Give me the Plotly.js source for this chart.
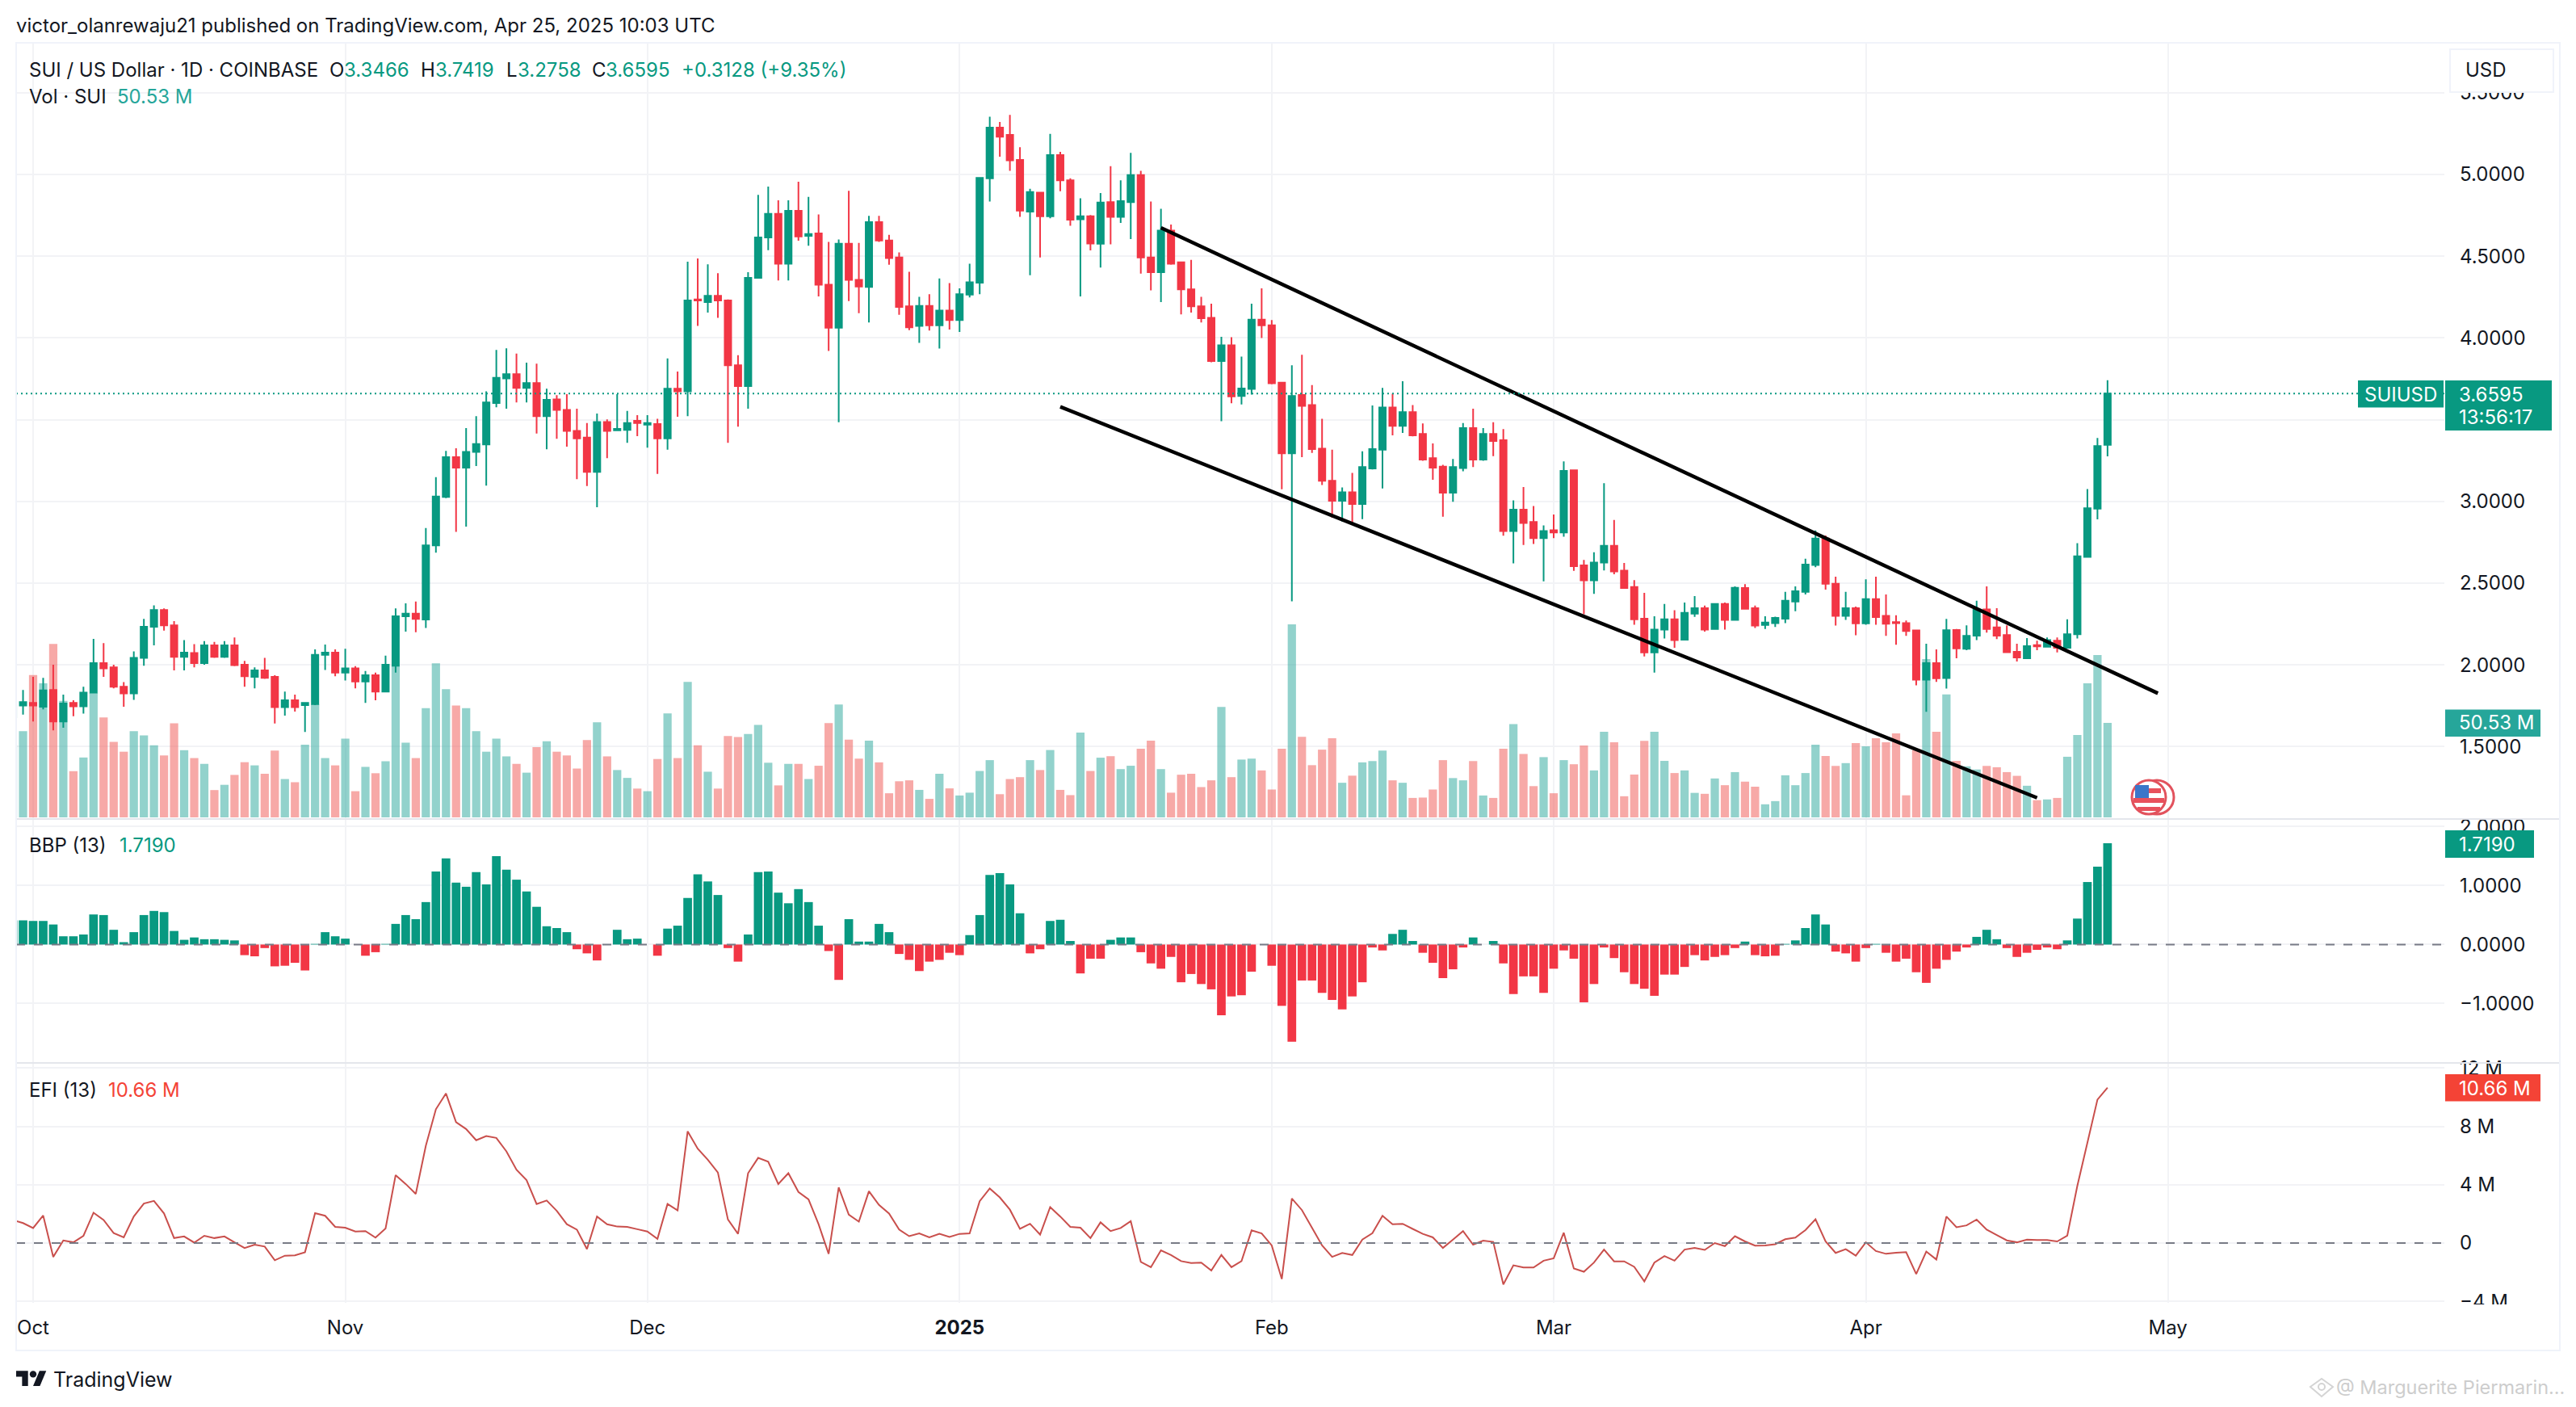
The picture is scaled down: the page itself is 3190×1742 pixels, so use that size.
<!DOCTYPE html>
<html><head><meta charset="utf-8">
<script src="https://cdn.plot.ly/plotly-3.0.1.min.js"></script>
<style>html,body{margin:0;padding:0;background:#fff;overflow:hidden}#c{width:3190px;height:1742px}</style>
</head><body><div id="c"></div>
<script>
const FIRST_DAY = '2024-09-29';
const monthTicks = ['2024-10-01','2024-11-01','2024-12-01','2025-01-01','2025-02-01','2025-03-01','2025-04-01','2025-05-01'];
const monthLabels = ['Oct','Nov','Dec','<b>2025</b>','Feb','Mar','Apr','May'];
const open = [
1.680,1.751,1.767,1.744,1.847,1.654,1.767,1.747,1.831,2.011,
1.985,1.866,1.825,2.043,2.233,2.336,2.242,2.049,2.072,2.011,
2.120,2.049,2.120,2.001,1.927,1.966,1.927,1.741,1.783,1.754,
1.760,2.062,2.075,1.953,1.979,1.899,1.937,1.837,1.995,2.297,
2.313,2.278,2.731,3.027,3.271,3.206,3.303,3.348,3.602,3.753,
3.779,3.695,3.724,3.522,3.624,3.560,3.431,3.390,3.181,3.486,
3.435,3.438,3.493,3.470,3.473,3.386,3.689,3.673,4.235,4.219,
4.258,4.229,3.833,3.705,4.367,4.614,4.759,4.454,4.778,4.625,
4.639,4.326,4.062,4.576,4.355,4.312,4.709,4.596,4.492,4.193,
4.074,4.196,4.077,4.167,4.109,4.265,4.338,4.976,5.286,5.242,
5.089,4.773,4.889,4.744,5.118,4.964,4.726,4.744,4.576,4.831,
4.741,4.831,4.996,4.492,4.402,4.657,4.463,4.297,4.193,4.123,
3.859,3.955,3.645,3.688,4.112,4.077,3.726,3.294,3.651,3.590,
3.323,3.126,3.004,3.056,2.984,3.201,3.317,3.575,3.462,3.546,
3.413,3.265,3.213,3.053,3.204,3.448,3.256,3.413,3.375,2.819,
2.949,2.874,2.775,2.824,2.810,3.190,2.609,2.517,2.626,2.728,
2.576,2.476,2.283,2.076,2.216,2.279,2.154,2.314,2.347,2.220,
2.373,2.275,2.470,2.347,2.244,2.255,2.283,2.388,2.447,2.611,
2.773,2.496,2.300,2.347,2.254,2.402,2.300,2.261,2.255,2.211,
1.910,2.011,1.920,2.214,2.099,2.179,2.339,2.230,2.183,2.080,
2.041,2.121,2.111,2.148,2.105,2.187,2.660,2.956,3.3466];
const close = [
1.754,1.773,1.751,1.844,1.654,1.764,1.747,1.831,2.011,1.979,
1.866,1.825,2.043,2.233,2.336,2.242,2.049,2.075,2.011,2.120,
2.049,2.120,1.998,1.931,1.966,1.921,1.741,1.783,1.741,1.767,
2.062,2.075,1.953,1.979,1.899,1.937,1.837,2.001,2.297,2.313,
2.281,2.731,3.030,3.271,3.206,3.303,3.351,3.605,3.756,3.779,
3.695,3.724,3.522,3.621,3.560,3.431,3.386,3.181,3.486,3.431,
3.444,3.480,3.480,3.480,3.386,3.689,3.673,4.229,4.229,4.258,
4.229,3.833,3.705,4.367,4.614,4.759,4.454,4.778,4.621,4.636,
4.326,4.062,4.576,4.355,4.315,4.709,4.596,4.489,4.190,4.065,
4.196,4.077,4.167,4.109,4.268,4.341,4.979,5.286,5.231,5.086,
4.779,4.892,4.744,5.118,4.964,4.723,4.744,4.578,4.828,4.741,
4.837,4.996,4.492,4.402,4.657,4.454,4.297,4.193,4.120,3.859,
3.955,3.642,3.691,4.112,4.077,3.723,3.294,3.645,3.584,3.320,
3.126,3.004,3.056,2.984,3.210,3.320,3.575,3.462,3.546,3.404,
3.256,3.207,3.053,3.210,3.448,3.256,3.413,3.369,2.819,2.949,
2.868,2.775,2.819,2.810,3.187,2.604,2.517,2.626,2.728,2.572,
2.470,2.279,2.076,2.216,2.279,2.152,2.318,2.347,2.216,2.373,
2.275,2.472,2.343,2.240,2.259,2.287,2.392,2.451,2.613,2.773,
2.496,2.300,2.347,2.254,2.402,2.293,2.252,2.255,2.207,1.910,
2.011,1.918,2.212,2.101,2.177,2.337,2.220,2.179,2.078,2.046,
2.115,2.113,2.152,2.105,2.187,2.664,2.958,3.339,3.6595];
const high = [
1.792,1.847,1.927,1.921,2.001,1.818,1.783,1.866,2.159,2.133,
2.001,1.895,2.082,2.281,2.364,2.345,2.268,2.152,2.127,2.146,
2.140,2.146,2.168,2.024,1.985,2.043,1.937,1.837,1.818,1.773,
2.095,2.124,2.095,2.098,1.992,1.963,1.953,2.056,2.345,2.377,
2.387,2.837,3.149,3.309,3.325,3.448,3.522,3.673,3.926,3.936,
3.904,3.849,3.843,3.689,3.650,3.656,3.567,3.480,3.538,3.502,
3.656,3.554,3.528,3.528,3.505,3.875,3.795,4.466,4.486,4.450,
4.396,4.235,3.894,4.402,4.875,4.926,4.842,4.842,4.955,4.863,
4.755,4.587,4.602,4.900,4.581,4.747,4.747,4.631,4.523,4.405,
4.251,4.268,4.364,4.335,4.303,4.454,4.984,5.353,5.321,5.364,
5.167,4.912,4.892,5.248,5.138,4.976,4.854,4.752,4.886,5.051,
4.964,5.132,5.022,4.834,4.790,4.694,4.468,4.477,4.251,4.210,
4.007,4.004,3.886,4.210,4.303,4.109,3.726,3.833,3.897,3.712,
3.506,3.317,3.085,3.175,3.306,3.587,3.694,3.659,3.735,3.590,
3.477,3.355,3.224,3.259,3.480,3.567,3.448,3.485,3.442,3.007,
3.088,2.972,2.853,2.920,3.245,3.195,2.642,2.689,3.111,2.886,
2.623,2.519,2.441,2.298,2.373,2.334,2.382,2.421,2.363,2.377,
2.382,2.480,2.494,2.363,2.298,2.295,2.447,2.480,2.650,2.822,
2.792,2.539,2.447,2.357,2.523,2.539,2.431,2.304,2.271,2.216,
2.129,2.095,2.281,2.220,2.242,2.392,2.480,2.347,2.242,2.129,
2.164,2.148,2.168,2.168,2.279,2.744,3.076,3.388,3.7419];
const low = [
1.648,1.696,1.654,1.728,1.599,1.616,1.686,1.702,1.825,1.927,
1.857,1.744,1.786,1.995,2.120,2.210,1.966,1.966,1.985,2.001,
2.043,2.043,1.992,1.866,1.857,1.915,1.641,1.690,1.715,1.590,
1.754,1.969,1.931,1.905,1.857,1.767,1.783,1.834,1.953,2.204,
2.200,2.226,2.686,3.020,2.814,2.846,3.216,3.097,3.576,3.567,
3.605,3.605,3.415,3.319,3.383,3.335,3.136,3.094,2.965,3.264,
3.431,3.358,3.399,3.329,3.168,3.316,3.518,3.522,4.074,4.155,
4.123,3.358,3.457,3.567,4.364,4.537,4.351,4.351,4.595,4.564,
4.254,3.920,3.485,4.225,4.152,4.094,4.587,4.448,4.141,4.048,
3.970,4.045,3.935,4.051,4.036,4.248,4.268,4.834,5.109,5.022,
4.741,4.384,4.492,4.732,4.897,4.686,4.254,4.535,4.431,4.573,
4.703,4.605,4.393,4.291,4.219,4.448,4.144,4.155,4.094,3.851,
3.491,3.601,3.593,3.654,3.999,3.717,3.074,2.389,3.271,3.297,
3.100,2.900,2.877,2.862,2.891,3.195,3.079,3.404,3.419,3.398,
3.248,3.132,2.906,2.998,3.184,3.210,3.248,3.277,2.790,2.621,
2.734,2.740,2.511,2.775,2.784,2.575,2.310,2.435,2.578,2.554,
2.466,2.246,2.052,1.953,2.162,2.105,2.152,2.294,2.203,2.216,
2.216,2.271,2.339,2.226,2.220,2.232,2.255,2.328,2.431,2.597,
2.460,2.240,2.275,2.181,2.246,2.246,2.177,2.123,2.177,1.875,
1.713,1.896,1.855,2.041,2.090,2.152,2.197,2.158,2.074,2.021,
2.037,2.090,2.107,2.076,2.103,2.162,2.656,2.890,3.2758];
const volumeM = [
38.5,46.1,76.1,71.6,92.7,62.3,24.7,32.0,66.5,53.4,
40.4,35.1,46.1,43.8,38.5,33.1,50.3,35.9,31.7,28.6,
14.6,17.4,22.7,29.5,27.8,23.3,35.7,20.5,18.8,38.8,
60.4,31.7,27.8,42.1,14.0,27.0,23.6,30.0,80.9,39.9,
31.7,58.4,82.3,68.5,59.8,58.4,46.1,35.1,42.1,32.6,
28.6,23.9,37.6,40.7,35.1,33.1,26.1,41.3,50.8,32.6,
25.3,21.1,15.4,14.0,31.2,55.6,31.7,72.4,38.5,24.4,
15.4,43.5,43.0,44.6,49.4,29.2,17.1,28.6,28.6,20.5,
27.6,50.4,60.3,41.5,31.4,41.0,29.4,12.9,19.3,19.8,
14.7,9.9,23.3,15.5,11.7,13.2,24.8,30.6,12.4,20.5,
21.5,30.6,25.3,36.0,14.7,11.9,45.3,24.8,31.9,32.7,
25.8,27.6,36.7,41.0,25.8,13.2,22.8,23.3,16.2,19.8,
59.0,21.5,30.9,31.4,25.1,14.9,36.7,103.1,43.1,27.9,
36.2,42.3,18.5,22.3,29.4,30.1,35.7,19.8,18.5,10.4,
10.6,14.9,30.6,21.0,19.8,30.1,11.7,10.4,36.7,49.9,
33.9,16.7,32.2,12.9,30.6,28.4,38.4,25.1,45.7,40.1,
11.3,22.9,40.9,45.7,30.2,23.7,25.1,13.1,12.6,20.8,
17.2,24.2,19.1,16.4,7.0,8.7,22.5,17.2,23.7,38.9,
32.8,27.5,29.0,39.7,38.0,42.3,40.1,44.9,11.8,36.0,
84.6,45.7,65.7,30.2,27.3,25.6,27.5,26.8,24.2,22.2,
16.9,9.2,9.6,10.4,32.4,44.0,71.7,86.7,50.53];
const bbp = [
0.41,0.41,0.40,0.40,0.34,0.14,0.14,0.17,0.51,0.50,
0.25,0.04,0.21,0.50,0.57,0.55,0.23,0.08,0.12,0.09,
0.09,0.08,0.07,-0.18,-0.20,-0.06,-0.37,-0.36,-0.31,-0.44,
0.01,0.21,0.14,0.10,0.00,-0.19,-0.13,0.01,0.35,0.50,
0.43,0.72,1.24,1.46,1.05,0.98,1.23,1.02,1.50,1.27,
1.10,0.90,0.64,0.31,0.28,0.21,-0.08,-0.15,-0.27,0.00,
0.25,0.09,0.10,0.00,-0.19,0.27,0.32,0.79,1.19,1.07,
0.84,-0.06,-0.29,0.17,1.23,1.24,0.88,0.70,0.94,0.72,
0.32,-0.11,-0.60,0.43,0.05,0.05,0.35,0.21,-0.16,-0.26,
-0.45,-0.29,-0.26,-0.14,-0.18,0.16,0.50,1.18,1.21,1.02,
0.53,-0.15,-0.08,0.40,0.42,0.06,-0.49,-0.24,-0.24,0.08,
0.12,0.12,-0.13,-0.32,-0.41,-0.21,-0.64,-0.50,-0.67,-0.76,
-1.20,-0.88,-0.86,-0.46,0.00,-0.36,-1.04,-1.65,-0.61,-0.61,
-0.82,-0.94,-1.10,-0.88,-0.64,-0.05,-0.10,0.18,0.25,0.06,
-0.14,-0.31,-0.57,-0.42,-0.05,0.12,0.00,0.06,-0.32,-0.84,
-0.54,-0.54,-0.82,-0.41,-0.10,-0.24,-0.98,-0.67,-0.05,-0.23,
-0.47,-0.67,-0.75,-0.87,-0.51,-0.51,-0.38,-0.18,-0.27,-0.21,
-0.18,-0.06,0.05,-0.18,-0.20,-0.19,0.01,0.07,0.28,0.51,
0.34,-0.12,-0.15,-0.29,-0.06,0.01,-0.14,-0.29,-0.24,-0.47,
-0.65,-0.41,-0.26,-0.12,-0.05,0.13,0.25,0.09,-0.06,-0.21,
-0.14,-0.09,-0.05,-0.08,0.07,0.44,1.06,1.32,1.719];
const efiM = [
1.58,1.37,1.03,1.89,-0.95,0.18,0.05,0.50,2.08,1.58,
0.68,0.39,1.82,2.71,2.89,2.03,0.34,0.45,0.03,0.50,
0.34,0.45,0.05,-0.34,-0.11,-0.24,-1.18,-0.87,-0.84,-0.63,
2.05,1.87,1.11,1.05,0.79,0.82,0.37,1.00,4.66,4.05,
3.37,6.68,9.18,10.26,8.29,7.82,7.05,7.34,7.21,6.29,
5.03,4.32,2.68,2.92,2.21,1.29,0.92,-0.42,1.82,1.29,
1.13,1.11,0.95,0.79,0.29,2.68,2.24,7.66,6.47,5.71,
4.84,1.61,0.63,4.79,5.84,5.58,4.05,4.79,3.50,3.00,
1.29,-0.74,3.82,1.95,1.47,3.55,2.61,2.03,0.92,0.47,
0.66,0.39,0.63,0.42,0.63,0.66,2.87,3.74,3.13,2.29,
0.97,1.32,0.58,2.47,1.82,1.11,1.05,0.34,1.42,0.82,
1.03,1.50,-1.29,-1.66,-0.50,-0.82,-1.24,-1.37,-1.34,-1.89,
-0.82,-1.66,-1.24,0.87,0.66,-0.16,-2.47,3.05,2.26,1.03,
-0.16,-0.95,-0.68,-0.82,0.24,0.68,1.87,1.29,1.32,0.97,
0.63,0.39,-0.34,0.24,0.82,-0.11,0.16,0.08,-2.84,-1.53,
-1.68,-1.68,-1.21,-1.05,0.71,-1.74,-1.97,-1.34,-0.45,-1.26,
-1.26,-1.63,-2.63,-1.34,-0.89,-1.21,-0.45,-0.34,-0.47,0.00,
-0.21,0.47,0.11,-0.18,-0.16,-0.08,0.26,0.37,0.89,1.63,
0.11,-0.68,-0.42,-0.87,0.05,-0.55,-0.74,-0.66,-0.63,-2.13,
-0.58,-1.13,1.82,1.08,1.21,1.61,0.92,0.55,0.18,0.05,
0.24,0.21,0.21,0.11,0.50,3.92,6.82,9.84,10.66];
const upperTrendDates = ['2025-01-21','2025-04-30'];
const upperTrendPrices = [4.674,1.826];
const lowerTrendDates = ['2025-01-11','2025-04-18'];
const lowerTrendPrices = [3.579,1.187];
const priceTicks = [1.5,2,2.5,3,3.5,4,4.5,5,5.5];
const priceTickText = ['1.5000','2.0000','2.5000','3.0000','3.5000','4.0000','4.5000','5.0000','5.5000'];
const bbpTicks = [-1,0,1,2];
const bbpTickText = ['\u22121.0000','0.0000','1.0000','2.0000'];
const efiTicks = [-4,0,4,8,12];
const efiTickText = ['\u22124 M','0','4 M','8 M','12 M'];
const lastClose = 3.6595;

const UP='#089981', DOWN='#F23645', VUP='rgba(38,166,154,0.5)', VDOWN='rgba(239,83,80,0.5)';
const GRID='#f2f3f6', SEP='#e4e6ec', INK='#131722', FONT='Inter, "Noto Sans", sans-serif';
const W=3190,H=1742;
const X0=20,X1=3027,XR=3170,T0=53,T1=1014,T2=1316,T3=1613,T4=1672;
const px=x=>x/W, py=y=>1-y/H;

const dates=[]; {
  const s=Date.parse(FIRST_DAY+'T00:00:00Z');
  for(let i=0;i<open.length;i++) dates.push(new Date(s+i*864e5).toISOString().slice(0,10));
}
const volColors=close.map((c,i)=>c>=open[i]?VUP:VDOWN);
const bbpColors=bbp.map(v=>v>=0?UP:DOWN);

const traces=[
 {type:'bar',x:dates,y:volumeM,xaxis:'x',yaxis:'y',width:0.82*864e5,marker:{color:volColors,line:{width:0}},hoverinfo:'skip'},
 {type:'candlestick',x:dates,open,high,low,close,xaxis:'x',yaxis:'y4',whiskerwidth:0,
  increasing:{line:{color:UP,width:2},fillcolor:UP},decreasing:{line:{color:DOWN,width:2},fillcolor:DOWN},hoverinfo:'skip'},
 {type:'scatter',mode:'lines',x:upperTrendDates,y:upperTrendPrices,xaxis:'x',yaxis:'y4',line:{color:'#000',width:4.5},hoverinfo:'skip'},
 {type:'scatter',mode:'lines',x:lowerTrendDates,y:lowerTrendPrices,xaxis:'x',yaxis:'y4',line:{color:'#000',width:4.5},hoverinfo:'skip'},
 {type:'bar',x:dates,y:bbp,xaxis:'x',yaxis:'y2',width:0.86*864e5,marker:{color:bbpColors,line:{width:0}},hoverinfo:'skip'},
 {type:'scatter',mode:'lines',x:dates,y:efiM,xaxis:'x',yaxis:'y3',line:{color:'#c94f4c',width:2},hoverinfo:'skip'}
];

function rect(x0,y0,x1,y1,fill,line,extra){return Object.assign({type:'rect',xref:'paper',yref:'paper',x0:px(x0),x1:px(x1),y0:py(y0),y1:py(y1),fillcolor:fill,line:line||{width:0},layer:'above'},extra||{});}
function hline(x0,x1,y,color,w){return {type:'line',xref:'paper',yref:'paper',x0:px(x0),x1:px(x1),y0:py(y),y1:py(y),line:{color,width:w},layer:'above'};}
function poly(pts,fill,line){return {type:'path',xref:'paper',yref:'paper',path:'M'+pts.map(p=>px(p[0])+','+py(p[1])).join('L')+'Z',fillcolor:fill,line:line||{width:0},layer:'above'};}
function circ(cx,cy,r,fill,line){return {type:'circle',xref:'paper',yref:'paper',x0:px(cx-r),x1:px(cx+r),y0:py(cy+r),y1:py(cy-r),fillcolor:fill,line:line||{width:0},layer:'above'};}

const LX=20,LS=1.05,LY=1693;
const tvp=(a)=>a.map(p=>[LX+p[0]*LS,LY+p[1]*LS]);

const shapes=[
 rect(3031,1615,3168,1640,'#fff'),
 rect(3034,61,3162,114,'#fff',{color:'#f0f3fa',width:2}),
 {type:'line',xref:'paper',yref:'y4',x0:px(X0),x1:px(X1),y0:lastClose,y1:lastClose,line:{color:UP,width:2,dash:'2px,4px'},layer:'above'},
 {type:'line',xref:'paper',yref:'y2',x0:px(X0),x1:px(X1),y0:0,y1:0,line:{color:'#787b86',width:2,dash:'11px,11px'},layer:'above'},
 {type:'line',xref:'paper',yref:'y3',x0:px(X0),x1:px(X1),y0:0,y1:0,line:{color:'#787b86',width:2,dash:'11px,11px'},layer:'above'},
 hline(X0,XR,T1,SEP,2), hline(X0,XR,T2,SEP,2),
 rect(X0,T0,XR,T4,'rgba(0,0,0,0)',{color:'#f0f3fa',width:2}),
 rect(2920,471,3026,504.6,UP),
 rect(3028,471,3160,533,UP),
 rect(3028,878.6,3146,912,'#26a69a'),
 rect(3028,1028,3138,1062,UP),
 rect(3028,1330,3146,1363.5,'#F44336'),
 // economic-events badge
 circ(2671,987,21,'#fff',{color:'#e2525d',width:3}),
 circ(2661,987,21,'#fff',{color:'#e2525d',width:3}),
 rect(2646,976,2676,982,'#e8515c'), rect(2642,988,2680,994,'#e8515c'), rect(2647,999,2675,1004,'#e8515c'),
 rect(2644,972,2661,988,'#3b76c9'),
 poly(tvp([[14,22],[7,22],[7,11],[0,11],[0,4],[14,4]]),'#131722'),
 poly(tvp([[28,22],[20,22],[27.5,4],[35.5,4]]),'#131722'),
 circ(LX+20*LS,LY+8*LS,4*LS,'#131722'),
 poly([[2861,1717],[2875,1707],[2889,1717],[2875,1729]],'rgba(0,0,0,0)',{color:'#d4d4d4',width:2}),
 circ(2875,1717,4,'rgba(0,0,0,0)',{color:'#d4d4d4',width:2}),
];

function ann(text,x,y,size,color,anchor,extra){return Object.assign({xref:'paper',yref:'paper',x:px(x),y:py(y),text,showarrow:false,xanchor:anchor||'left',yanchor:'middle',font:{family:FONT,size,color},borderpad:0,borderwidth:0},extra||{});}
const LG=24;
const annotations=[
 ann('victor_olanrewaju21 published on TradingView.com, Apr 25, 2025 10:03 UTC',20,31,24,INK),
 ann('SUI / US Dollar · 1D · COINBASE',36,86,LG,INK),
 ann('O',408,86,LG,INK), ann('3.3466',426,86,LG,UP),
 ann('H',521,86,LG,INK), ann('3.7419',539,86,LG,UP),
 ann('L',627,86,LG,INK), ann('3.2758',641,86,LG,UP),
 ann('C',733,86,LG,INK), ann('3.6595',750,86,LG,UP),
 ann('+0.3128 (+9.35%)',844,86,LG,UP),
 ann('Vol · SUI',36,120,LG,INK), ann('50.53 M',145,120,LG,'#26a69a'),
 ann('BBP (13)',36,1046,LG,INK), ann('1.7190',148,1046,LG,UP),
 ann('EFI (13)',36,1349,LG,INK), ann('10.66 M',134,1349,LG,'#F44336'),
 ann('USD',3053,87,24,INK),
 ann('SUIUSD',2973,488,24,'#fff','center'),
 ann('3.6595',3045,488,24,'#fff'),
 ann('13:56:17',3045,516,24,'#fff'),
 ann('50.53 M',3045,895,24,'#fff'),
 ann('1.7190',3045,1045,24,'#fff'),
 ann('10.66 M',3045,1347,24,'#fff'),
 ann('TradingView',66,1708,25,INK),
 ann('@ Marguerite Piermarin...',2893,1717,23.5,'#cdcdcd'),
];

const tick={family:FONT,size:24,color:INK};
const yCommon={side:'right',showline:false,zeroline:false,ticks:'',tickmode:'array',gridcolor:GRID,gridwidth:2,tickfont:tick,ticklabelstandoff:18,fixedrange:true,anchor:'x'};
const layout={
 width:W,height:H,margin:{l:0,r:0,t:0,b:0},paper_bgcolor:'#fff',plot_bgcolor:'#fff',showlegend:false,barmode:'overlay',boxgap:0.36,boxgroupgap:0,
 hovermode:false,shapes,annotations,
 xaxis:{type:'date',domain:[px(X0),px(X1)],range:['2024-09-29 07:35','2025-05-28 10:48'],anchor:'y3',tickmode:'array',tickvals:monthTicks,ticktext:monthLabels,
   showgrid:true,gridcolor:GRID,gridwidth:2,zeroline:false,showline:false,ticks:'',tickfont:tick,ticklabelstandoff:14,rangeslider:{visible:false},fixedrange:true},
 yaxis:{domain:[py(T1),py(T0)],range:[-0.86,413.9],anchor:'x',side:'right',showgrid:false,zeroline:false,showticklabels:false,ticks:'',fixedrange:true},
 yaxis4:Object.assign({},yCommon,{domain:[py(T1),py(T0)],overlaying:'y',range:[1.0573,5.8053],tickvals:priceTicks,ticktext:priceTickText}),
 yaxis2:Object.assign({},yCommon,{domain:[py(T2),py(T1)],range:[-2.008,2.129],tickvals:bbpTicks,ticktext:bbpTickText}),
 yaxis3:Object.assign({},yCommon,{domain:[py(T3),py(T2)],range:[-4.10,12.355],tickvals:efiTicks,ticktext:efiTickText}),
};
Plotly.newPlot('c',traces,layout,{displayModeBar:false,staticPlot:true});
</script></body></html>
